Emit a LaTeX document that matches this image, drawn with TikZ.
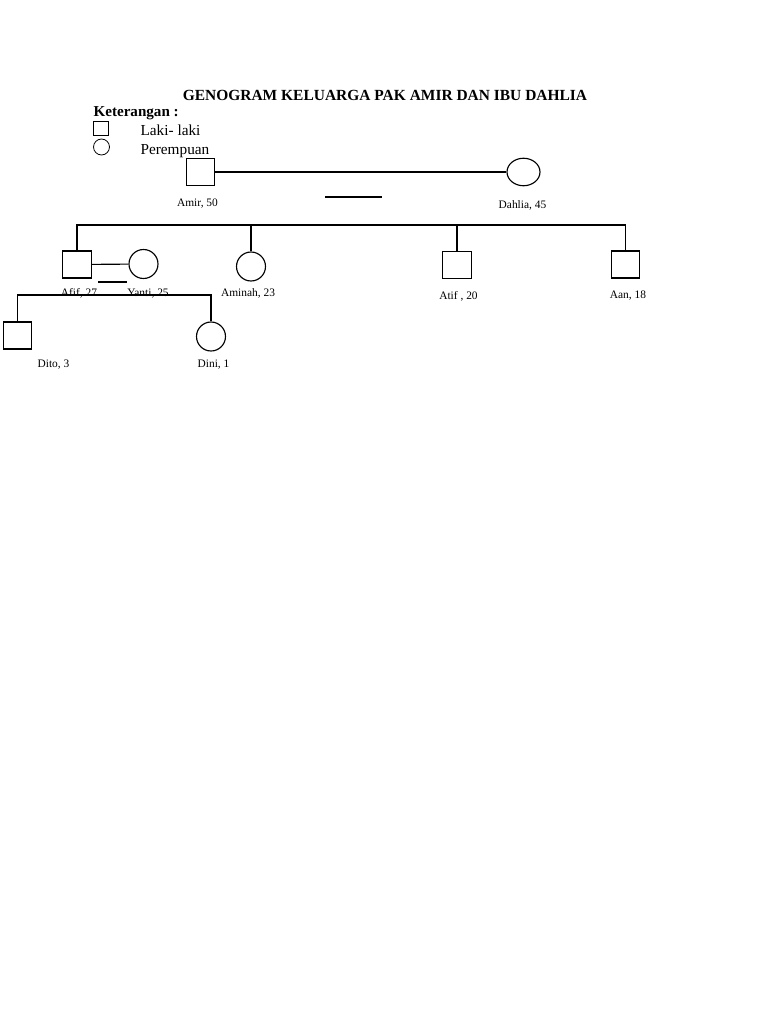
\documentclass[tikz,border=0pt]{standalone}
\usepackage{fontspec}
\setmainfont{Liberation Serif}
\usepackage{tikz}
\usetikzlibrary{shapes.geometric}

\tikzset{
    male/.style={draw, rectangle, minimum width=0.57cm, minimum height=0.54cm, inner sep=0pt},
    female/.style={draw, circle, minimum size=0.58cm, inner sep=0pt},
    nametag/.style={anchor=base, inner sep=0pt, font=\fontsize{6.5}{8}\selectfont},
    legendtext/.style={anchor=base west, inner sep=0pt, font=\fontsize{8.7}{10}\selectfont}
}

\begin{document}
\begin{tikzpicture}[x=0.02cm, y=-0.02cm, line width=0.65pt]

    % Page
    \useasboundingbox (0, 0) rectangle (768, 1024);

    % Title
    \node[anchor=base, inner sep=0pt, font=\bfseries\fontsize{8.8}{10}\selectfont] (title) at (385, 101) {GENOGRAM KELUARGA PAK AMIR DAN IBU DAHLIA};

    % Legend
    \node[legendtext, font=\bfseries\fontsize{8.6}{10}\selectfont] (keterangan) at (93, 116) {Keterangan :};
    \node[draw, minimum width=0.3cm, minimum height=0.28cm, inner sep=0pt, line width=0.45pt] (legmale) at (100.5, 128) {};
    \node[legendtext] (legmaletext) at (140, 135) {Laki- laki};
    \node[draw, circle, minimum size=0.32cm, inner sep=0pt, line width=0.45pt] (legfemale) at (101.5, 147) {};
    \node[legendtext] (legfemaletext) at (140, 154) {Perempuan};

    % Parents
    \node[male] (amir) at (200.5, 172) {};
    \node[draw, ellipse, minimum width=0.66cm, minimum height=0.55cm, inner sep=0pt] (dahlia) at (523.5, 172) {};
    \draw (amir) -- (dahlia);
    \draw (325, 197) -- (382, 197);
    \node[nametag] (amirname) at (197.5, 206) {Amir, 50};
    \node[nametag] (dahlianame) at (522.5, 208) {Dahlia, 45};

    % Children
    \coordinate (sibbar) at (0, 225);
    \node[male] (afif) at (77, 264.5) {};
    \node[female] (yanti) at (143.5, 264) {};
    \node[female] (aminah) at (251, 266.5) {};
    \node[male] (atif) at (457, 265) {};
    \node[male] (aan) at (625.5, 264.5) {};
    \draw (afif.north) |- (aan.north |- sibbar) -- (aan.north);
    \draw (aminah.north) -- (aminah.north |- sibbar);
    \draw (atif.north) -- (atif.north |- sibbar);
    \draw (afif) -- (yanti);
    \draw (98, 282) -- (127, 282);
    \node[nametag] (afifname) at (79, 296) {Afif, 27};
    \node[nametag] (yantiname) at (148, 296) {Yanti, 25};
    \node[nametag] (aminahname) at (248, 296) {Aminah, 23};
    \node[nametag] (atifname) at (458.5, 299) {Atif , 20};
    \node[nametag] (aanname) at (628, 298) {Aan, 18};

    % Grandchildren
    \coordinate (kidbar) at (0, 295);
    \node[male] (dito) at (17.5, 335.5) {};
    \node[female] (dini) at (211, 336.5) {};
    \draw (dito.north) |- (dini.north |- kidbar) -- (dini.north);
    \node[nametag] (ditoname) at (53.5, 367) {Dito, 3};
    \node[nametag] (dininame) at (213.5, 367) {Dini, 1};

\end{tikzpicture}
\end{document}
